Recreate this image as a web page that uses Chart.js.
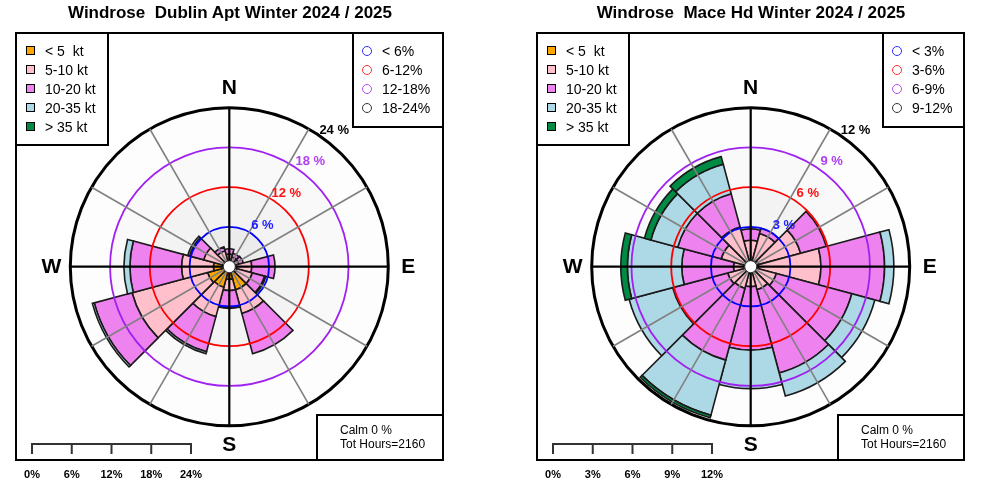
<!DOCTYPE html>
<html><head><meta charset="utf-8">
<script src="https://cdn.jsdelivr.net/npm/chart.js@4.4.1/dist/chart.umd.min.js"></script>
<style>
body{margin:0;background:#fff;font-family:"Liberation Sans",Arial,sans-serif;}
#wrap{position:relative;width:988px;height:495px;overflow:hidden;}
canvas{position:absolute;top:0;}
.title{position:absolute;top:3px;font-weight:bold;font-size:17px;text-align:center;width:494px;white-space:pre;}
.box{position:absolute;border:2.5px solid #000;box-sizing:border-box;background:transparent;}
.leg{position:absolute;font-size:14px;white-space:pre;line-height:19px;}
.sq{display:inline-block;width:7px;height:7px;border:1px solid #000;margin-right:10px;vertical-align:1px;}
.ci{display:inline-block;width:8px;height:8px;border:1.5px solid;border-radius:50%;margin-right:10px;vertical-align:0px;}
.calm{position:absolute;font-size:12px;line-height:14px;white-space:pre;}
</style></head><body>
<div id="wrap">
<canvas id="c1" width="494" height="495" style="left:0"></canvas>
<canvas id="c2" width="494" height="495" style="left:494px"></canvas>
</div>
<script>
const directions = [0,30,60,90,120,150,180,210,240,270,300,330];
const speedBands = ['< 5  kt','5-10 kt','10-20 kt','20-35 kt','> 35 kt'];
const bandColors = ['#ffa500','#ffc0cb','#ee82ee','#add8e6','#008b45'];
// Dublin Apt: % per band per direction
const dublinLt5   = [0.5,0.5,0.5,1.0,1.2,3.6,1.9,3.2,3.4,2.4,1.0,0.7];
const dublin5_10  = [1.4,1.0,1.0,2.4,2.4,3.7,1.7,4.6,11.8,4.8,3.0,1.8];
const dublin10_20 = [0.8,0.6,0.7,3.5,1.9,6.3,2.5,5.5,5.9,7.8,2.2,0.6];
const dublin20_35 = [0,0,0,0,0.2,0,0.2,0.3,0.3,0.9,0.3,0];
const dublinGt35  = [0,0,0,0,0,0,0,0,0,0,0,0];
// Mace Head
const maceLt5   = [0.3,0.5,0.6,0.6,0.3,0.2,0.2,0.2,0.2,0.2,0.2,0.2];
const mace5_10  = [1.7,2.1,3.3,4.7,1.7,1.6,1.3,1.5,1.6,1.1,2.1,2.9];
const mace10_20 = [0.85,0.4,2.0,4.8,5.9,6.5,4.8,5.6,4.3,3.9,3.4,2.6];
const mace20_35 = [0,0,0,0.7,1.8,1.8,2.9,4.3,3.4,4.1,2.1,2.3];
const maceGt35  = [0,0,0,0,0,0,0,0.2,0,0.5,0.5,0.6];
const dublinRings = [6,12,18,24];
const maceRings = [3,6,9,12];
const ringLegendDublin = ['< 6%','6-12%','12-18%','18-24%'];
const ringLegendMace = ['< 3%','3-6%','6-9%','9-12%'];

const ringColors = ['#0000ff','#ff0000','#a020f0','#000000'];
const ringLabelColors = ['#2020ff','#ff1010','#b040f0','#000000'];
const ringFills = ['#ececec','#f3f3f3','#f9f9f9','#fdfdfd'];

function rosePlugin(bands, rings){
  return {id:'rose', beforeDatasetsDraw(chart){
    const ctx = chart.ctx, xs = chart.scales.x, ys = chart.scales.y;
    const cx = xs.getPixelForValue(0), cy = ys.getPixelForValue(0);
    const rp = v => xs.getPixelForValue(v) - cx;
    const ang = d => (d-90)*Math.PI/180;
    ctx.save();
    // ring backgrounds
    for(let i=rings.length-1;i>=0;i--){
      ctx.beginPath();ctx.arc(cx,cy,rp(rings[i]),0,2*Math.PI);ctx.fillStyle=ringFills[i];ctx.fill();
    }
    // wedges
    directions.forEach((d,j)=>{
      let cum=0;
      bands.forEach((b,k)=>{
        const v=b[j]; if(v<=0) return;
        const r0=rp(cum), r1=rp(cum+v); cum+=v;
        ctx.beginPath();
        ctx.arc(cx,cy,r1,ang(d-15),ang(d+15));
        ctx.arc(cx,cy,r0,ang(d+15),ang(d-15),true);
        ctx.closePath();
        ctx.fillStyle=bandColors[k];ctx.fill();
        ctx.lineWidth=1.6;ctx.strokeStyle='#1a1a1a';ctx.stroke();
      });
    });
    // rings
    rings.forEach((r,i)=>{
      ctx.beginPath();ctx.arc(cx,cy,rp(r),0,2*Math.PI);
      ctx.lineWidth = i===rings.length-1?3:1.8;ctx.strokeStyle=ringColors[i];ctx.stroke();
    });
    const R=rp(rings[rings.length-1]);
    // spokes
    ctx.strokeStyle='#808080';ctx.lineWidth=1.6;
    for(let a=30;a<360;a+=30){ if(a%90===0) continue;
      ctx.beginPath();ctx.moveTo(cx,cy);ctx.lineTo(cx+R*Math.cos(ang(a)),cy+R*Math.sin(ang(a)));ctx.stroke();}
    ctx.strokeStyle='#000';ctx.lineWidth=2.2;
    ctx.beginPath();ctx.moveTo(cx,cy-R);ctx.lineTo(cx,cy+R);ctx.moveTo(cx-R,cy);ctx.lineTo(cx+R,cy);ctx.stroke();
    // center hole
    ctx.beginPath();ctx.arc(cx,cy,6,0,2*Math.PI);ctx.fillStyle='#fff';ctx.fill();
    ctx.lineWidth=1;ctx.strokeStyle='#333';ctx.stroke();
    // ring labels
    ctx.font='bold 13px "Liberation Sans", Arial';ctx.textAlign='center';ctx.textBaseline='middle';
    rings.forEach((r,i)=>{
      const rr=rp(r)+12, a=ang(37);
      ctx.fillStyle=ringLabelColors[i];
      ctx.fillText(r+' %',cx+rr*Math.cos(a)+2,cy+rr*Math.sin(a));
    });
    // compass
    ctx.fillStyle='#000';ctx.font='bold 21px "Liberation Sans", Arial';
    ctx.fillText('N',cx,cy-R-19);ctx.fillText('S',cx,cy+R+20);
    ctx.fillText('W',cx-R-19,cy+1);ctx.fillText('E',cx+R+20,cy+1);
    // scale bar
    const bx = chart.options.barX, by=444;
    ctx.lineWidth=2;ctx.beginPath();ctx.moveTo(bx,by);ctx.lineTo(bx+R,by);
    rings.concat([0]).forEach(r=>{const x=bx+rp(r);ctx.moveTo(x,by-1);ctx.lineTo(x,by+10);});
    ctx.stroke();
    ctx.font='bold 11px "Liberation Sans", Arial';
    [0].concat(rings).forEach(r=>ctx.fillText(r+'%',bx+rp(r),475));
    ctx.restore();
  }};
}
function makeChart(id, bands, rings, padL, padR, barX){
  const R=rings[rings.length-1];
  return new Chart(document.getElementById(id),{
    type:'scatter',
    data:{datasets:[{data:[],pointRadius:0}]},
    options:{responsive:false,animation:false,barX:barX,
      layout:{padding:{left:padL,right:padR,top:107.7,bottom:69.3}},
      plugins:{legend:{display:false},tooltip:{enabled:false},title:{display:false}},
      scales:{x:{type:'linear',min:-R,max:R,display:false},y:{type:'linear',min:-R,max:R,display:false}}},
    plugins:[rosePlugin(bands,rings)]
  });
}
makeChart('c1',[dublinLt5,dublin5_10,dublin10_20,dublin20_35,dublinGt35],dublinRings,70.3,105.7,32);
makeChart('c2',[maceLt5,mace5_10,mace10_20,mace20_35,maceGt35],maceRings,97.7,78.3,59);

// HTML overlays
const wrap=document.getElementById('wrap');
function add(html){wrap.insertAdjacentHTML('beforeend',html);}
function panel(off,title,ringLeg,rlegL,calmL){
  add(`<div class="title" style="left:${off-17}px">${title}</div>`);
  add(`<div class="box" style="left:${off+15}px;top:32px;width:429px;height:429px"></div>`);
  add(`<div class="box" style="left:${off+15}px;top:32px;width:94px;height:114px"></div>`);
  add(`<div class="box" style="left:${off+rlegL}px;top:32px;width:${444-rlegL}px;height:96px"></div>`);
  add(`<div class="box" style="left:${off+calmL}px;top:414px;width:${444-calmL}px;height:47px"></div>`);
  let s='';speedBands.forEach((b,i)=>{s+=`<div><span class="sq" style="background:${bandColors[i]}"></span>${b}</div>`;});
  add(`<div class="leg" style="left:${off+26}px;top:42px">${s}</div>`);
  s='';ringLeg.forEach((b,i)=>{s+=`<div><span class="ci" style="border-color:${['#3030ff','#ff3030','#b050f0','#333'][i]}"></span>${b}</div>`;});
  add(`<div class="leg" style="left:${off+rlegL+10}px;top:42px">${s}</div>`);
  add(`<div class="calm" style="left:${off+calmL+24}px;top:423px">Calm 0 %\nTot Hours=2160</div>`);
}
panel(0,'Windrose  Dublin Apt Winter 2024 / 2025',ringLegendDublin,352,316);
panel(521,'Windrose  Mace Hd Winter 2024 / 2025',ringLegendMace,361,316);
</script>
</body></html>
